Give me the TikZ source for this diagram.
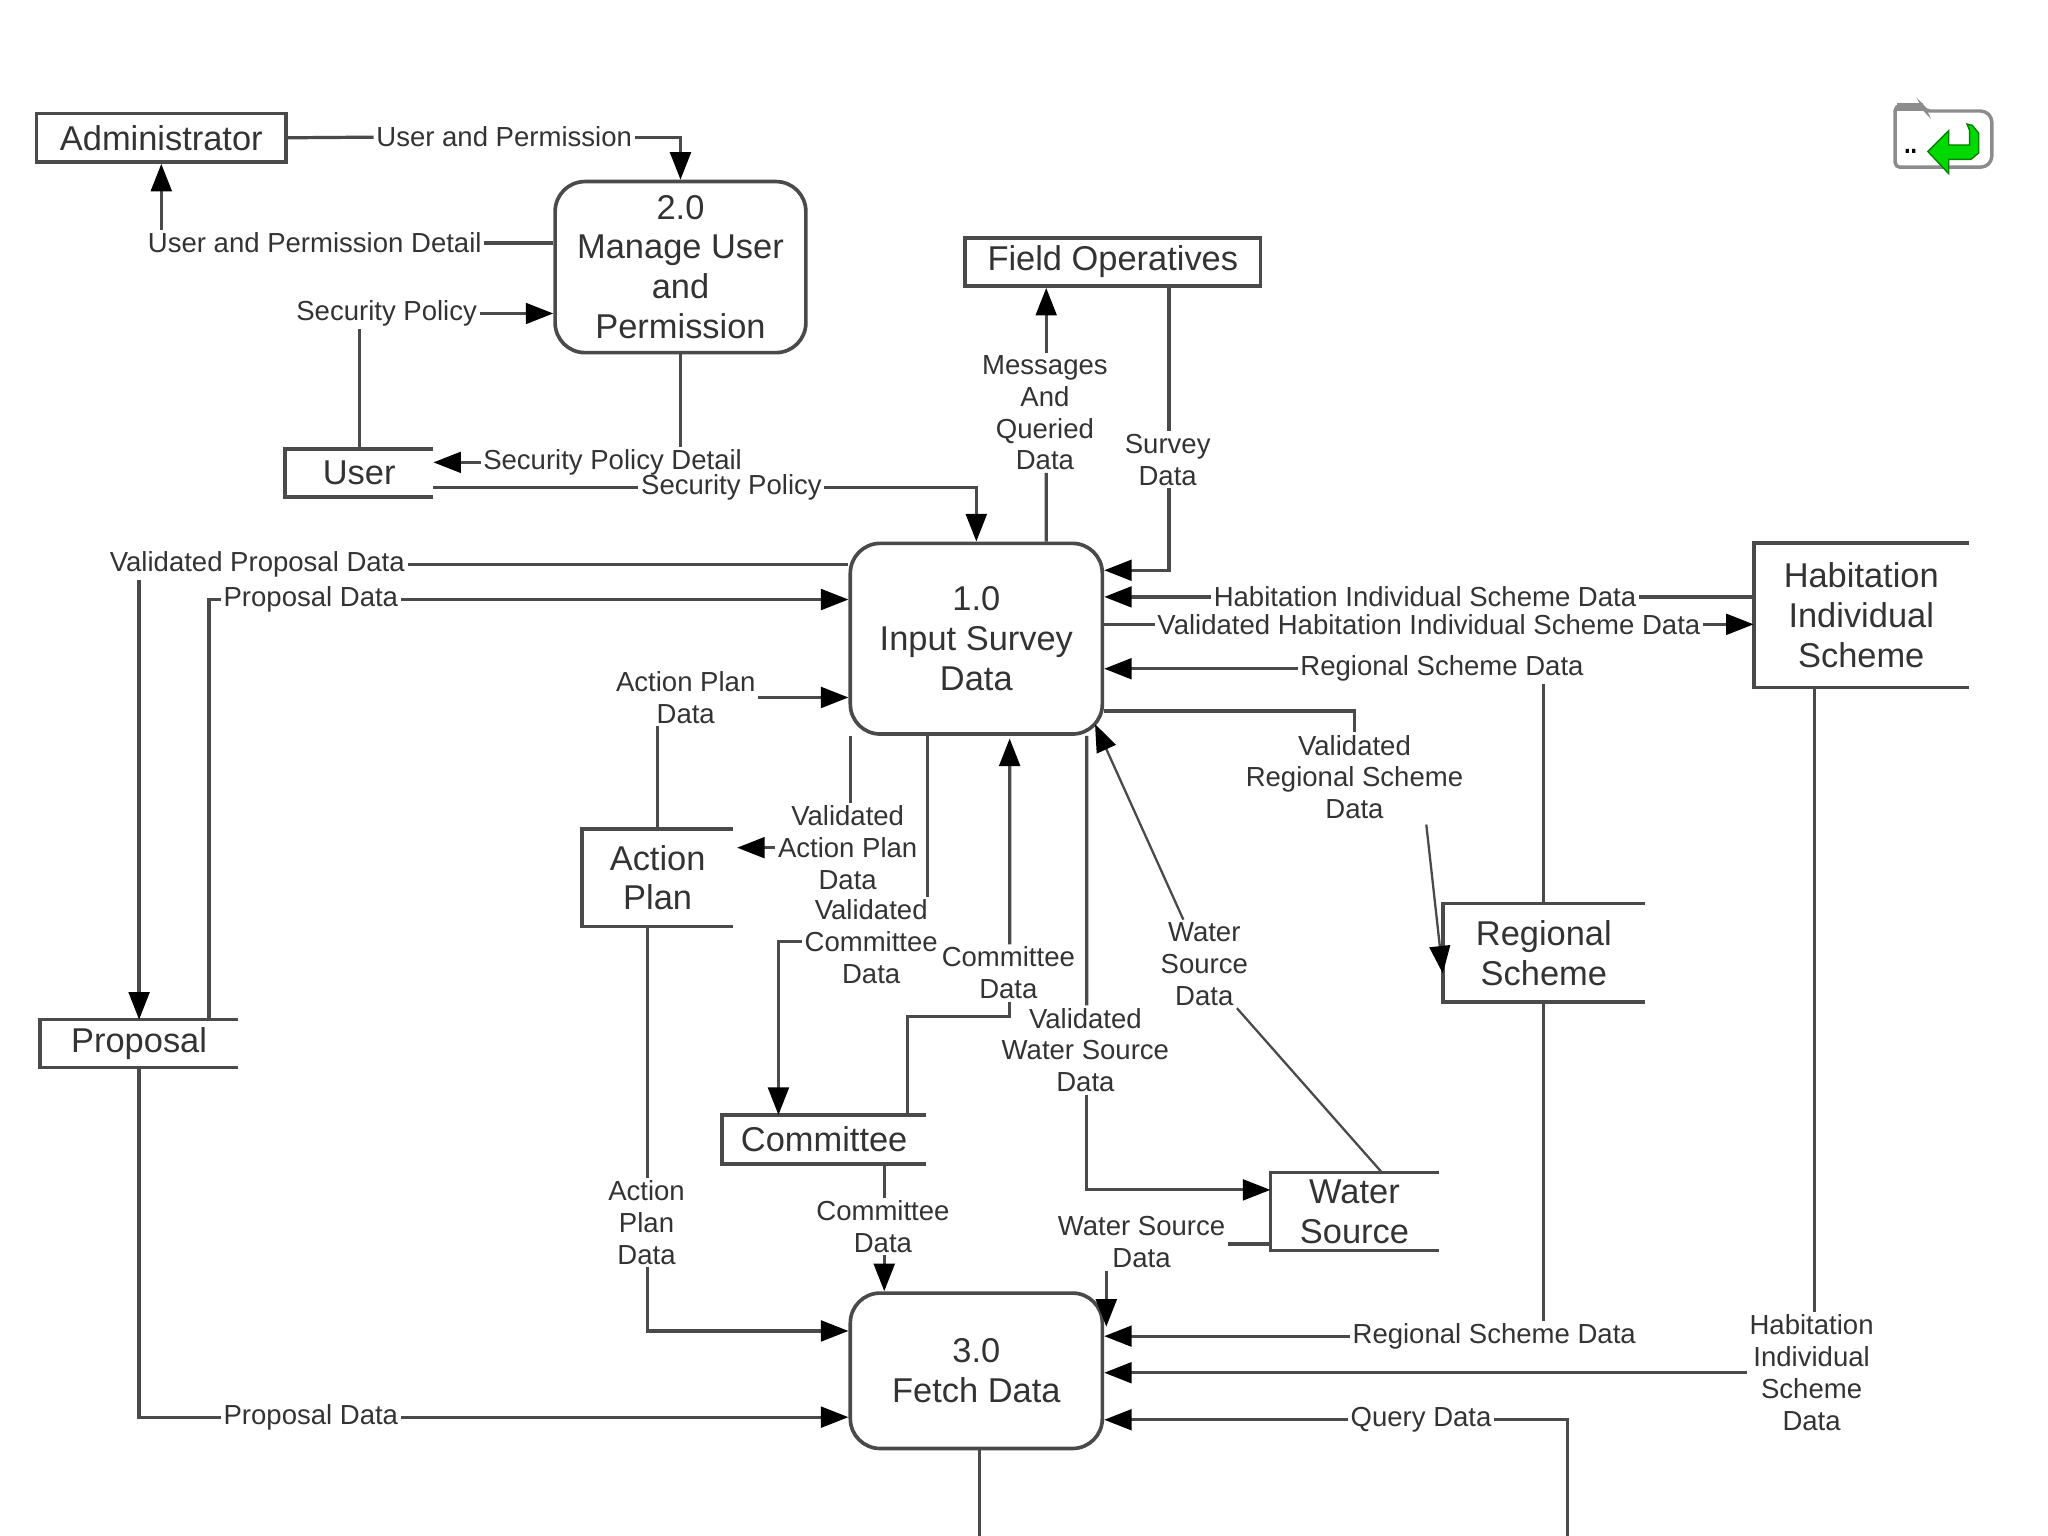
\documentclass[tikz,border=0pt]{standalone}
\usepackage{fontspec}
\setmainfont{Liberation Sans}
\usetikzlibrary{arrows.meta,calc}
\definecolor{linecol}{HTML}{4A4A4A}
\definecolor{textcol}{HTML}{333333}
\tikzset{
	wire/.style = {draw=linecol, line width=1.4pt},
	flow/.style = {wire, -{Triangle[length=12pt,width=9pt,color=black]}},
	lab/.style = {text=textcol, inner sep=1pt, align=center, font=\fontsize{12}{13.9}\selectfont},
	unit/.style = {text=textcol, inner sep=0pt, align=center, font=\fontsize{15}{17.4}\selectfont},
	extern/.style = {unit, draw=linecol, line width=1.6pt},
	store/.style = {unit},
	process/.style = {unit, draw=linecol, line width=1.6pt, rounded corners=13pt}
}
\begin{document}
\begin{tikzpicture}[x=0.02cm, y=-0.02cm]
	\useasboundingbox (0,0) rectangle (1568,1176);
	% units
	\node[extern, minimum width=3.82cm, minimum height=0.74cm] (admin) at (123.5,105.5) {Administrator};
	\node[extern, minimum width=4.52cm, minimum height=0.74cm] (field) at (852,200.5) {Field Operatives};
	\node[process, minimum width=3.84cm, minimum height=2.62cm] (manage) at (521,204.5) {2.0\\Manage User\\and\\Permission};
	\node[process, minimum width=3.86cm, minimum height=2.92cm] (input) at (747.5,489) {1.0\\Input Survey\\Data};
	\node[process, minimum width=3.86cm, minimum height=2.38cm] (fetch) at (747.5,1049.5) {3.0\\Fetch Data};
	\node[store, minimum width=2.26cm, minimum height=0.72cm] (user) at (275,362) {User};
	\node[store, minimum width=3.28cm, minimum height=2.2cm] (habit) at (1425,471) {Habitation\\Individual\\Scheme};
	\node[store, minimum width=2.3cm, minimum height=1.48cm] (plan) at (503.5,672) {Action\\Plan};
	\node[store, minimum width=3.02cm, minimum height=0.72cm] (proposal) at (106.5,799) {Proposal};
	\node[store, minimum width=3.08cm, minimum height=1.5cm] (regional) at (1182,729.5) {Regional\\Scheme};
	\node[store, minimum width=3.12cm, minimum height=0.74cm] (committee) at (631,872.5) {Committee};
	\node[store, minimum width=2.56cm, minimum height=1.18cm] (water) at (1037,927.5) {Water\\Source};
	\foreach \s in {user, habit, plan, proposal, regional, committee, water}
		\draw[wire, line width=1.6pt] (\s.north east) -- (\s.north west) -- (\s.south west) -- (\s.south east);

	% labels
	\node[lab] (l1) at (386,105) {User and Permission};
	\node[lab] (l2) at (241,186) {User and Permission Detail};
	\node[lab] (l3) at (296,240) {Security Policy};
	\node[lab] (l4) at (469,354) {Security Policy Detail};
	\node[lab] (l5) at (560,373) {Security Policy};
	\node[lab] (l6) at (800,316) {Messages\\And\\Queried\\Data};
	\node[lab] (l7) at (894,352) {Survey\\Data};
	\node[lab] (l8) at (197,432) {Validated Proposal Data};
	\node[lab] (l9) at (238,459) {Proposal Data};
	\node[lab] (l10) at (525,534) {Action Plan\\Data};
	\node[lab] (l11) at (649,649) {Validated\\Action Plan\\Data};
	\node[lab] (l12) at (667,721) {Validated\\Committee\\Data};
	\node[lab] (l13) at (772,745) {Committee\\Data};
	\node[lab] (l14) at (831,804) {Validated\\Water Source\\Data};
	\node[lab] (l15) at (922,738) {Water\\Source\\Data};
	\node[lab] (l16) at (1037,595) {Validated\\Regional Scheme\\Data};
	\node[lab] (l17) at (1104,512) {Regional Scheme Data};
	\node[lab] (l18) at (1091,457) {Habitation Individual Scheme Data};
	\node[lab] (l19) at (1094,478) {Validated Habitation Individual Scheme Data};
	\node[lab] (l20) at (1144,1023) {Regional Scheme Data};
	\node[lab] (l21) at (1387,1051) {Habitation\\Individual\\Scheme\\Data};
	\node[lab] (l22) at (1088,1087) {Query Data};
	\node[lab] (l23) at (874,951) {Water Source\\Data};
	\node[lab] (l24) at (676,939) {Committee\\Data};
	\node[lab] (l25) at (495,936) {Action\\Plan\\Data};
	\node[lab] (l26) at (238,1085) {Proposal Data};
	\coordinate (fetchout) at (750,1176);
	\coordinate (queryin) at (1200,1176);
	\coordinate (waterfoot) at ($(water.south west)+(0,-5)$);

	% connectors at the top
	\draw[wire] (admin.east) -- (l1.west);
	\draw[flow] (l1.east) -| (manage.north);
	\draw[wire] ($(manage.west)+(0,-18.5)$) -- (l2.east);
	\draw[flow] (admin.south |- l2.north) -- (admin.south);
	\draw[wire] (l3.south -| user.north) -- (user.north);
	\draw[flow] (l3.east) -- (l3.east -| manage.west);
	\draw[wire] (manage.south) -- (manage.south |- l4.north);
	\draw[flow] (l4.west) -- (l4.west -| user.east);
	\draw[wire] (user.east |- l5.west) -- (l5.west);
	\draw[flow] (l5.east) -| (input.north);
	\draw[wire] ($(input.north)+(53.5,0)$) -- ($(l6.south)+(1,0)$);
	\draw[flow] ($(l6.north)+(1,0)$) -- ($(field.south)+(-51,0)$);
	\draw[wire] ($(field.south)+(43,0)$) -- ($(l7.north)+(1,0)$);
	\draw[flow] ($(l7.south)+(1,0)$) |- ($(input.north east)+(0,22)$);

	% left of the input process
	\draw[wire] ($(input.west)+(0,-57)$) -- (l8.east);
	\draw[flow] (proposal.north |- l8.south) -- (proposal.north);
	\draw[wire] ($(proposal.north)+(53.5,0)$) |- (l9.west);
	\draw[flow] (l9.east) -- (l9.east -| input.west);
	\draw[wire] (plan.north) -- (plan.north |- l10.south);
	\draw[flow] (l10.east) -- (l10.east -| input.west);
	\draw[wire] ($(input.south)+(-96.5,0)$) -- ($(l11.north)+(2,0)$);
	\draw[flow] (l11.west) -- ($(plan.east |- l11.west)+(3,0)$);
	\draw[wire] ($(input.south)+(-37.5,0)$) -- ($(l12.north)+(43,0)$);
	\draw[flow] (l12.west) -| ($(committee.north)+(-35,0)$);
	\draw[wire] ($(committee.north)+(64,0)$) |- ($(l13.south)+(1,11)$) -- ($(l13.south)+(1,0)$);
	\draw[flow] ($(l13.north)+(1,0)$) -- ($(input.south)+(25.5,2)$);
	\draw[wire] ($(input.south)+(84.5,0)$) -- ($(l14.north)+(1,0)$);
	\draw[flow] ($(l14.south)+(1,0)$) |- ($(water.west)+(0,-16.5)$);
	\draw[wire, line width=1pt] ($(water.north)+(21,0)$) -- ($(l15.south)+(25,0)$);
	\draw[flow, line width=1pt] ($(l15.north)+(-16,0)$) -- ($(input.south east)+(-7,-9)$);

	% right of the input process
	\draw[wire] ($(input.south east)+(0,-19)$) -| (l16.north);
	\draw[flow, line width=1pt] ($(l16.south)+(55,2)$) -- ($(regional.south west)+(0,-22)$);
	\draw[wire] (regional.north) -- (regional.north |- l17.south);
	\draw[flow] (l17.west) -- (l17.west -| input.east);
	\draw[wire] (habit.west |- l18.east) -- (l18.east);
	\draw[flow] (l18.west) -- (l18.west -| input.east);
	\draw[wire] (input.east |- l19.west) -- (l19.west);
	\draw[flow] (l19.east) -- (l19.east -| habit.west);

	% connectors into the fetch process
	\draw[wire] (regional.south) -- (regional.south |- l20.north);
	\draw[flow] (l20.west) -- (l20.west -| fetch.east);
	\draw[wire] ($(habit.south)+(-36,0)$) -- ($(l21.north)+(2,0)$);
	\draw[flow] (l21.west) -- (l21.west -| fetch.east);
	\draw[wire] (queryin) |- (l22.east);
	\draw[flow] (l22.west) -- (l22.west -| fetch.east);
	\draw[wire] (waterfoot) -- (waterfoot -| l23.east);
	\draw[flow] ($(l23.south)+(-27,0)$) -- ($(l23.south)+(-27,43)$);
	\draw[wire] ($(committee.south)+(46,0)$) -- ($(l24.north)+(1,0)$);
	\draw[flow] ($(l24.south)+(1,0)$) -- ($(fetch.north)+(-70.5,0)$);
	\draw[wire] ($(plan.south)+(-7.5,0)$) -- ($(l25.north)+(1,0)$);
	\draw[flow] ($(l25.south)+(1,0)$) |- ($(fetch.west)+(0,-30.5)$);
	\draw[wire] (proposal.south) |- (l26.west);
	\draw[flow] (l26.east) -- (l26.east -| fetch.west);
	\draw[wire] (fetch.south -| fetchout) -- (fetchout);

	% folder icon
	\draw[draw=gray!90, line width=1.5pt, rounded corners=2pt, fill=white] (1451,128) -- (1451,81) -- (1472,81) -- (1474,85) -- (1520,85) -- (1525,90) -- (1525,123) -- (1520,128) -- cycle;
	\fill[gray!90] (1452,79) rectangle (1472,85);
	\fill[black] (1459,114) rectangle (1461.5,117) (1464,114) rectangle (1466.5,117);
	\fill[green!85!black, draw=green!50!black, line width=0.6pt] (1476,116) -- (1492,100) -- (1492,111) -- (1508,111) -- (1508,100) -- (1506,95) -- (1510,96) -- (1515,102) -- (1515,117) -- (1509,122) -- (1492,122) -- (1492,133) -- cycle;
\end{tikzpicture}
\end{document}
